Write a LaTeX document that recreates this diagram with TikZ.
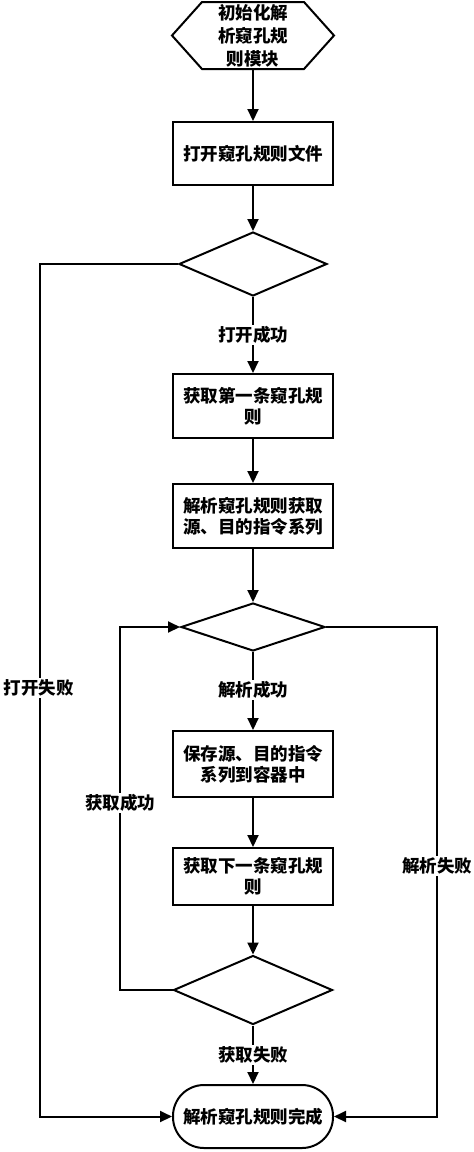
\documentclass[tikz,border=0pt]{standalone}
\usepackage{fontspec}
\newfontfamily\cjk{Noto Sans CJK SC}
\usetikzlibrary{shapes.geometric,arrows.meta,calc}
\begin{document}
\begin{tikzpicture}[x=1pt,y=-1pt,
  every node/.style={font=\cjk\bfseries\fontsize{17.5}{21}\selectfont, align=center},
  line width=2pt,
  proc/.style={draw, rectangle, minimum width=160pt, inner sep=2pt},
  dec/.style={draw, diamond, inner sep=0pt},
  arr/.style={-{Triangle[length=12pt,width=11pt]}},
  lbl/.style={fill=white, inner sep=1.5pt}]
\useasboundingbox (0,0) rectangle (474,1152);
% start hexagon
\node[minimum width=160pt, minimum height=65pt, inner sep=0pt,
      font=\cjk\bfseries\fontsize{17.5}{23}\selectfont] (start) at (253,35.5) {初始化解\\析窥孔规\\则模块};
\draw (start.west) -- ([xshift=30pt]start.north west) -- ([xshift=-30pt]start.north east)
  -- (start.east) -- ([xshift=-30pt]start.south east) -- ([xshift=30pt]start.south west) -- cycle;
% process boxes
\node[proc, minimum height=63pt] (r1) at (253,153.5) {打开窥孔规则文件};
\node[dec, minimum width=148pt, minimum height=64pt] (d1) at (253,264) {};
\node[proc, minimum height=64pt] (r2) at (253,406) {获取第一条窥孔规\\则};
\node[proc, minimum height=64pt] (r3) at (253,516) {解析窥孔规则获取\\源、目的指令系列};
\node[dec, minimum width=144pt, minimum height=48pt] (d2) at (253,627) {};
\node[proc, minimum height=66pt] (r4) at (253,764) {保存源、目的指令\\系列到容器中};
\node[proc, minimum height=57pt] (r5) at (253,876.5) {获取下一条窥孔规\\则};
\node[dec, minimum width=159pt, minimum height=69pt] (d3) at (253,990) {};
\node[draw, rounded corners=31pt, minimum width=160pt, minimum height=63pt] (end) at (253,1116.5) {解析窥孔规则完成};
% corner coordinates
\coordinate (cl) at (40,1116.5);
\coordinate (cr) at (437,1116.5);
\coordinate (cb) at (120,990);
% connectors
\draw[arr] (start) -- (r1);
\draw[arr] (r1) -- (d1);
\draw[arr] (d1) -- (r2);
\draw[arr] (r2) -- (r3);
\draw[arr] (r3) -- (d2);
\draw[arr] (d2) -- (r4);
\draw[arr] (r4) -- (r5);
\draw[arr] (r5) -- (d3);
\draw[arr] (d3) -- (end);
\draw[arr] (d1.west) -| (cl) -- (end.west);
\draw[arr] (d2.east) -| (cr) -- (end.east);
\draw[arr] (d3.west) -- (cb) |- (d2.west);
% labels
\node[lbl] (l1) at (253,335) {打开成功};
\node[lbl] (l2) at (253,690) {解析成功};
\node[lbl] (l3) at (253,1055) {获取失败};
\node[lbl] (l4) at (39,688) {打开失败};
\node[lbl] (l5) at (120,803) {获取成功};
\node[lbl] (l6) at (437,866) {解析失败};
\end{tikzpicture}
\end{document}
